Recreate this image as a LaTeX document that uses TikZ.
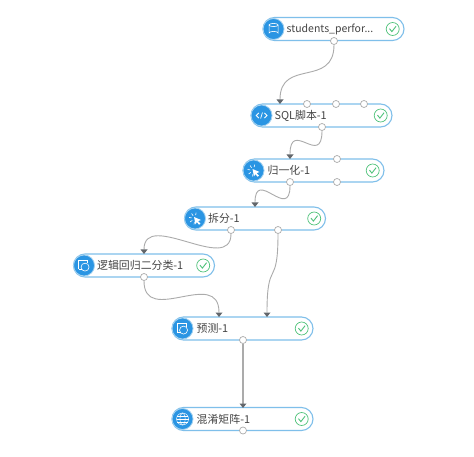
\documentclass[tikz,border=0pt]{standalone}
\usepackage{fontspec}
\setmainfont{Noto Sans CJK SC}
\usetikzlibrary{positioning,arrows.meta}
\definecolor{Blue}{HTML}{2A95E3}
\definecolor{LBlue}{HTML}{7FBFEA}
\definecolor{Green}{HTML}{4FC27A}
\definecolor{Wire}{HTML}{ABABAB}
\definecolor{Tip}{HTML}{62666B}
\definecolor{Ink}{HTML}{454545}
\newcommand{\modbox}[5]{%
  \node[pill] (#1) at (#2) {};
  \node[iconbox, right=0.2pt of #1.west] (#1-ic) {};
  \pic at (#1-ic) {#3};
  \node[lbl, anchor=west] (#1-lb) at ([xshift=#4]#1.west) {#5};
  \node[okbox, left=5pt of #1.east] (#1-ok) {};
  \draw[okmark] ([xshift=-3.2,yshift=0.3]#1-ok.center) -- ([xshift=-0.8,yshift=-2.6]#1-ok.center) -- ([xshift=3.4,yshift=2.8]#1-ok.center);
}
\tikzset{
  dbpic/.pic={\draw[glyph] (-4.5,-4) -- (-4.5,4) arc[x radius=4.5,y radius=1.6,start angle=180,end angle=360] -- (4.5,-4);
    \draw[glyph] (0,-4) ellipse[x radius=4.5,y radius=1.6];},
  codepic/.pic={\draw[glyph,line width=0.9pt] (-2.8,-2.6) -- (-5.4,0) -- (-2.8,2.6);
    \draw[glyph,line width=0.9pt] (2.8,-2.6) -- (5.4,0) -- (2.8,2.6);
    \draw[glyph,line width=0.7pt] (0.9,-3) -- (-0.9,3);},
  clickpic/.pic={\fill[white] (-1,-1.5) -- (6,1.5) -- (3,2.6) -- (5.4,5.2) -- (4,6.2) -- (1.8,3.6) -- (0.4,6) -- cycle;
    \foreach \a in {100,145,190,235,280}
      \draw[glyph] (\a:3.4) -- (\a:6);},
  modelpic/.pic={\draw[glyph] (-5.5,3.5) -- (-5.5,-5.5) -- (3.5,-5.5) -- (3.5,-2);
    \draw[glyph] (-5.5,3.5) -- (-2,3.5);
    \draw[glyph] (1,1.6) circle (4);},
  globepic/.pic={\draw[glyph,line width=0.45pt] (0,0) circle (6);
    \draw[glyph,line width=0.45pt] (0,0) ellipse[x radius=2.6,y radius=6];
    \draw[glyph,line width=0.45pt] (-6,0) -- (6,0);
    \draw[glyph,line width=0.45pt] (-5.2,-3) -- (5.2,-3);
    \draw[glyph,line width=0.45pt] (-5.2,3) -- (5.2,3);}
}
\begin{document}
\begin{tikzpicture}[
    x=1pt,y=-1pt,
    pill/.style={draw=LBlue,fill=white,line width=1.1pt,rounded corners=11.5pt,
                 minimum height=23pt,minimum width=141pt,inner sep=0pt},
    iconbox/.style={circle,draw=LBlue!70,fill=Blue,line width=0.8pt,
                    minimum size=21pt,inner sep=0pt},
    okbox/.style={circle,draw=Green,fill=white,line width=0.7pt,minimum size=13pt,inner sep=0pt},
    okmark/.style={draw=Green,line width=0.9pt},
    glyph/.style={draw=white,line width=0.6pt},
    lbl/.style={font=\fontsize{10.9}{12}\selectfont,text=Ink,inner sep=0pt},
    port/.style={circle,draw=Wire,fill=white,line width=0.7pt,minimum size=7pt,inner sep=0pt},
    arr/.style={-{Triangle[width=7pt,length=4.5pt,fill=Tip,line width=0pt]},draw=Wire,line width=0.9pt}
  ]
    \useasboundingbox (0,0) rectangle (474,457);
    \fill[white] (0,0) rectangle (474,457);
    % modules
    \modbox{data}{333.5,29}{dbpic}{24pt}{\fontsize{10.5}{12}\selectfont students\_perfor...}
    \modbox{sql}{321.5,115.5}{codepic}{24pt}{SQL脚本-1}
    \modbox{norm}{313.5,170.5}{clickpic}{25pt}{归一化-1}
    \modbox{split}{255,218.5}{clickpic}{24pt}{拆分-1}
    \modbox{logi}{144,265.5}{modelpic}{24pt}{逻辑回归二分类-1}
    \modbox{pred}{242.5,328.5}{modelpic}{25pt}{预测-1}
    \modbox{conf}{242.5,419}{globepic}{25pt}{混淆矩阵-1}
    % ports
    \node[port] (data-o) at (334,41) {};
    \node[port] (sql-a) at (307,104) {};
    \node[port] (sql-b) at (336,104) {};
    \node[port] (sql-c) at (364,104) {};
    \node[port] (sql-o) at (322,127) {};
    \node[port] (norm-a) at (337,159) {};
    \node[port] (norm-o) at (290,182) {};
    \node[port] (norm-p) at (337,182) {};
    \node[port] (split-o) at (231,230) {};
    \node[port] (split-p) at (278,230) {};
    \node[port] (logi-o) at (144,277) {};
    \node[port] (pred-o) at (243,340) {};
    \node[port] (conf-o) at (243,430.5) {};
    % inputs
    \coordinate (sql-in) at (280,104);
    \coordinate (norm-in) at (290,159);
    \coordinate (split-in) at (255,207);
    \coordinate (logi-in) at (144,254);
    \coordinate (pred-in) at (219,317);
    \coordinate (pred-jn) at (267,317);
    \coordinate (conf-in) at (243,408);
    % links
    \draw[arr] (data-o.south) .. controls (334,88) and (280,58) .. (sql-in);
    \draw[arr] (sql-o.south) .. controls (322,168) and (290,118) .. (norm-in);
    \draw[arr] (norm-o.south) .. controls (290,222) and (255,167) .. (split-in);
    \draw[arr] (split-o.south) .. controls (231,275) and (144,209) .. (logi-in);
    \draw[arr] (logi-o.south) .. controls (144,327) and (219,267) .. (pred-in);
    \draw[arr] (split-p.south) .. controls (278,290) and (267,257) .. (pred-jn);
    \draw[arr,line width=1.3pt] (pred-o.south) -- (conf-in);
  \end{tikzpicture}
\end{document}
